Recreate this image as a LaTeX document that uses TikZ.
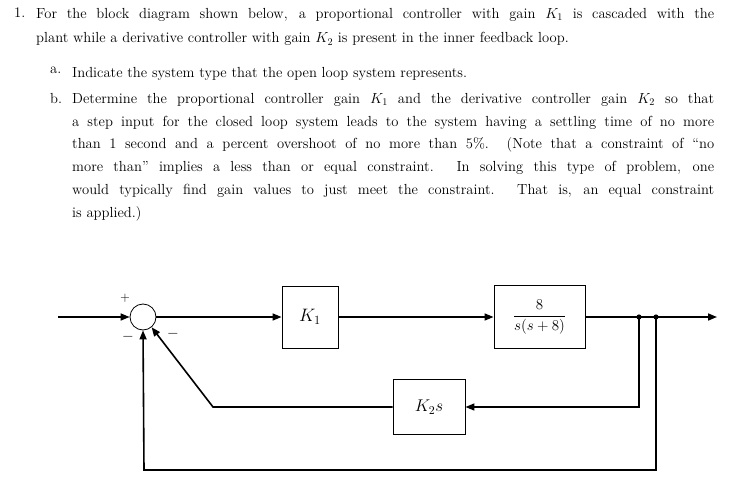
\documentclass[tikz,border=0pt]{standalone}
\usepackage{fix-cm}
\usepackage{amsmath}
\usetikzlibrary{arrows.meta}
\begin{document}
\begin{tikzpicture}[x=1pt,y=-1pt,
  sig/.style={line width=1.6pt,-{Triangle[length=9pt,width=7pt]}},
  blk/.style={draw,line width=0.9pt,inner sep=0pt},
  txt/.style={anchor=north west,inner sep=0pt,font=\fontsize{14.6}{24.5}\selectfont}]
\useasboundingbox (0,0) rectangle (744,489);
% text
\node[txt] (t1) at (14,8) {1.};
\node[txt] (p1) at (36,8) {\parbox[t]{678pt}{For the block diagram shown below, a proportional controller with gain $K_1$ is cascaded with the\linebreak plant while a derivative controller with gain $K_2$ is present in the inner feedback loop.}};
\node[txt] (ta) at (50,67) {a.};
\node[txt] (pa) at (72,67) {Indicate the system type that the open loop system represents.};
\node[txt] (tb) at (50,93) {b.};
\node[txt] (pb) at (72,93) {\parbox[t]{642pt}{\baselineskip=22.8pt Determine the proportional controller gain $K_1$ and the derivative controller gain $K_2$ so that\linebreak a step input for the closed loop system leads to the system having a settling time of no more\linebreak than 1 second and a percent overshoot of no more than 5\%. (Note that a constraint of ``no\linebreak more than'' implies a less than or equal constraint. In solving this type of problem, one\linebreak would typically find gain values to just meet the constraint. That is, an equal constraint\linebreak is applied.)}};
% diagram
\node[draw,circle,line width=0.8pt,minimum size=26pt,inner sep=0pt] (sum) at (143,317) {};
\node[blk,minimum width=56pt,minimum height=62pt,font=\fontsize{18}{20}\selectfont] (k1) at (310,317) {$K_1$};
\node[blk,minimum width=91pt,minimum height=63pt,font=\fontsize{15}{18}\selectfont] (g) at (539.5,317) {$\dfrac{8}{s(s+8)}$};
\node[blk,minimum width=72pt,minimum height=55pt,font=\fontsize{17}{20}\selectfont] (k2) at (429,407) {$K_2 s$};
\coordinate (in) at (58,317);
\coordinate (b1) at (639,317);
\coordinate (b2) at (656,317);
\coordinate (out) at (717,317);
\coordinate (c1) at (639,407);
\coordinate (c2) at (213,407);
\coordinate (d1) at (656,470);
\coordinate (d2) at (144,470);
\draw[sig] (in) -- (sum.west);
\draw[sig] (sum.east) -- (k1.west);
\draw[sig] (k1.east) -- (g.west);
\draw[sig] (g.east) -- (out);
\draw[sig] (b1) -- (c1) -- (k2.east);
\draw[sig] (k2.west) -- (c2) -- (sum.-50);
\draw[sig] (b2) -- (d1) -- (d2) -- (sum.south);
\fill (b1) circle (2.6pt) (b2) circle (2.6pt);
\node[font=\fontsize{13}{15}\selectfont] (pl) at (125,298) {$+$};
\node[font=\fontsize{15}{15}\selectfont] (m1) at (128,337) {$-$};
\node[font=\fontsize{15}{15}\selectfont] (m2) at (173,334) {$-$};
\end{tikzpicture}
\end{document}
